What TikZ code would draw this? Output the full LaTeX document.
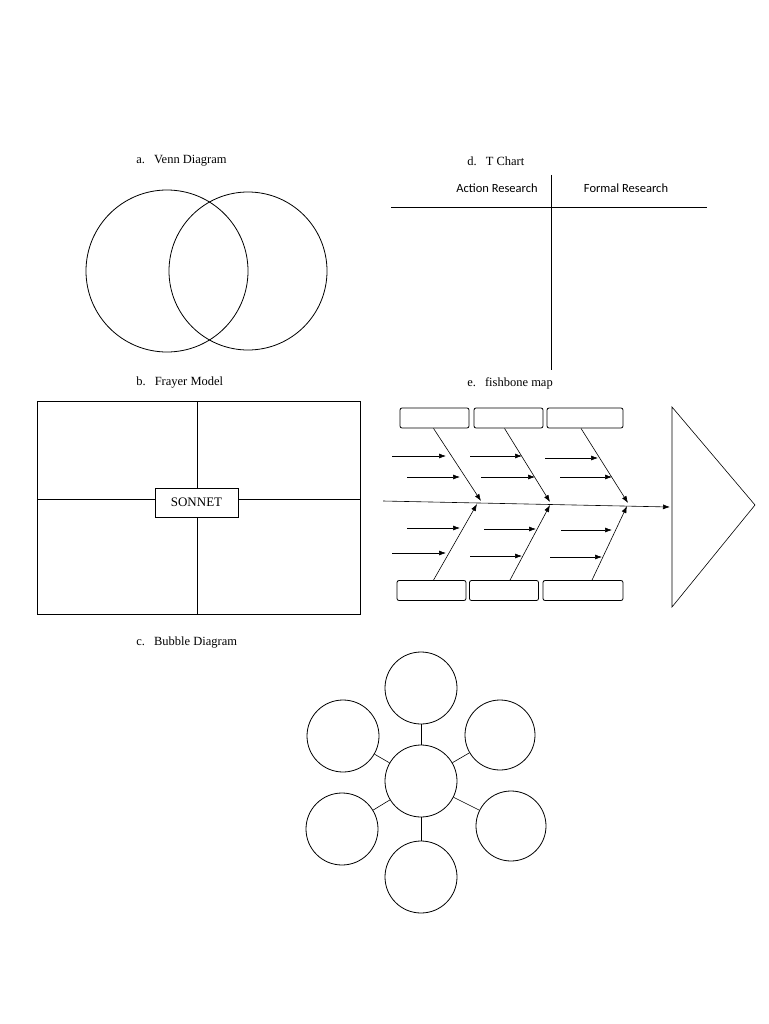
\documentclass[tikz,border=0pt]{standalone}
\usepackage{fontspec}
\setmainfont{Liberation Serif}
\newfontfamily\calib{Carlito}
\usetikzlibrary{arrows.meta}
\begin{document}
\begin{tikzpicture}[x=1pt,y=-1pt,line width=0.8pt,
  ttl/.style={anchor=west,font=\fontsize{12.5}{14}\selectfont,inner sep=0},
  hdr/.style={font=\calib\fontsize{12.5}{14}\selectfont,inner sep=0},
  fbox/.style={draw,rounded corners=2pt,minimum width=69pt,minimum height=20pt,inner sep=0},
  bub/.style={draw,circle,minimum size=72pt,inner sep=0},
  arr/.style={-{Latex[length=7pt,width=5pt]},line width=0.6pt},
  thin/.style={line width=0.6pt}]
\useasboundingbox (0,0) rectangle (768,1024);
% titles
\node[ttl] (ta) at (136,161) {a.\hspace{9pt}Venn Diagram};
\node[ttl] (td) at (467,161) {d.\hspace{9pt}T Chart};
\node[ttl] (tb) at (136,383) {b.\hspace{9pt}Frayer Model};
\node[ttl] (te) at (467,383) {e.\hspace{9pt}fishbone map};
\node[ttl] (tc) at (136,643) {c.\hspace{9pt}Bubble Diagram};
% Venn
\node[draw,circle,minimum size=162pt,inner sep=0] (v1) at (167,271) {};
\node[draw,circle,minimum size=158pt,inner sep=0] (v2) at (248,271) {};
% T chart
\coordinate (th1) at (391,207); \coordinate (th2) at (707,207);
\coordinate (tv1) at (551,175); \coordinate (tv2) at (551,370);
\draw[thin] (th1) -- (th2); \draw[thin] (tv1) -- (tv2);
\node[hdr] (h1) at (497,188) {Action Research};
\node[hdr] (h2) at (626,188) {Formal Research};
% Frayer
\draw (37,401) rectangle (360,614);
\draw (197,401) -- (197,614);
\draw (37,499) -- (360,499);
\node[draw,fill=white,minimum width=83pt,minimum height=29pt,inner sep=0,font=\fontsize{13}{14}\selectfont] (son) at (196.5,502.5) {SONNET};
% fishbone
\node[fbox] (t1) at (434.5,418) {}; \node[fbox] (t2) at (508.5,418) {}; \node[fbox,minimum width=76pt] (t3) at (585,418) {};
\node[fbox] (b1) at (431.5,590.5) {}; \node[fbox] (b2) at (504,590.5) {}; \node[fbox,minimum width=80pt] (b3) at (583,590.5) {};
\coordinate (s0) at (383,501); \coordinate (s1) at (670,507);
\draw[arr] (s0) -- (s1);
\draw[thin] (672,407) -- (755,505) -- (672,607) -- cycle;
\draw[arr] (t1.south) ++(-1,0) -- (481,501);
\draw[arr] (t2.south) ++(-4,0) -- (550,502);
\draw[arr] (t3.south) ++(-4,0) -- (628,503);
\draw[arr] (b1.north) ++(2,0) -- (477,504);
\draw[arr] (b2.north) ++(6,0) -- (550,505);
\draw[arr] (b3.north) ++(9,0) -- (627,506);
\foreach \a/\b/\y in {392/446/456,407/460/477,470/522/456,481/535/477,545/598/458,560/612/477,
  407/460/528,392/446/553,484/536/529,470/522/556,561/612/530,550/602/557}
  \draw[arr] (\a,\y) -- (\b,\y);
% bubble
\node[bub] (c0) at (421,781) {};
\node[bub] (c1) at (421,688) {};
\node[bub] (c2) at (343,736) {};
\node[bub,minimum size=70pt] (c3) at (500,735) {};
\node[bub] (c4) at (342,829) {};
\node[bub,minimum size=70pt] (c5) at (511,826) {};
\node[bub] (c6) at (421,877) {};
\foreach \c in {c1,c2,c3,c4,c5,c6} \draw[thin] (c0) -- (\c);
\end{tikzpicture}
\end{document}
